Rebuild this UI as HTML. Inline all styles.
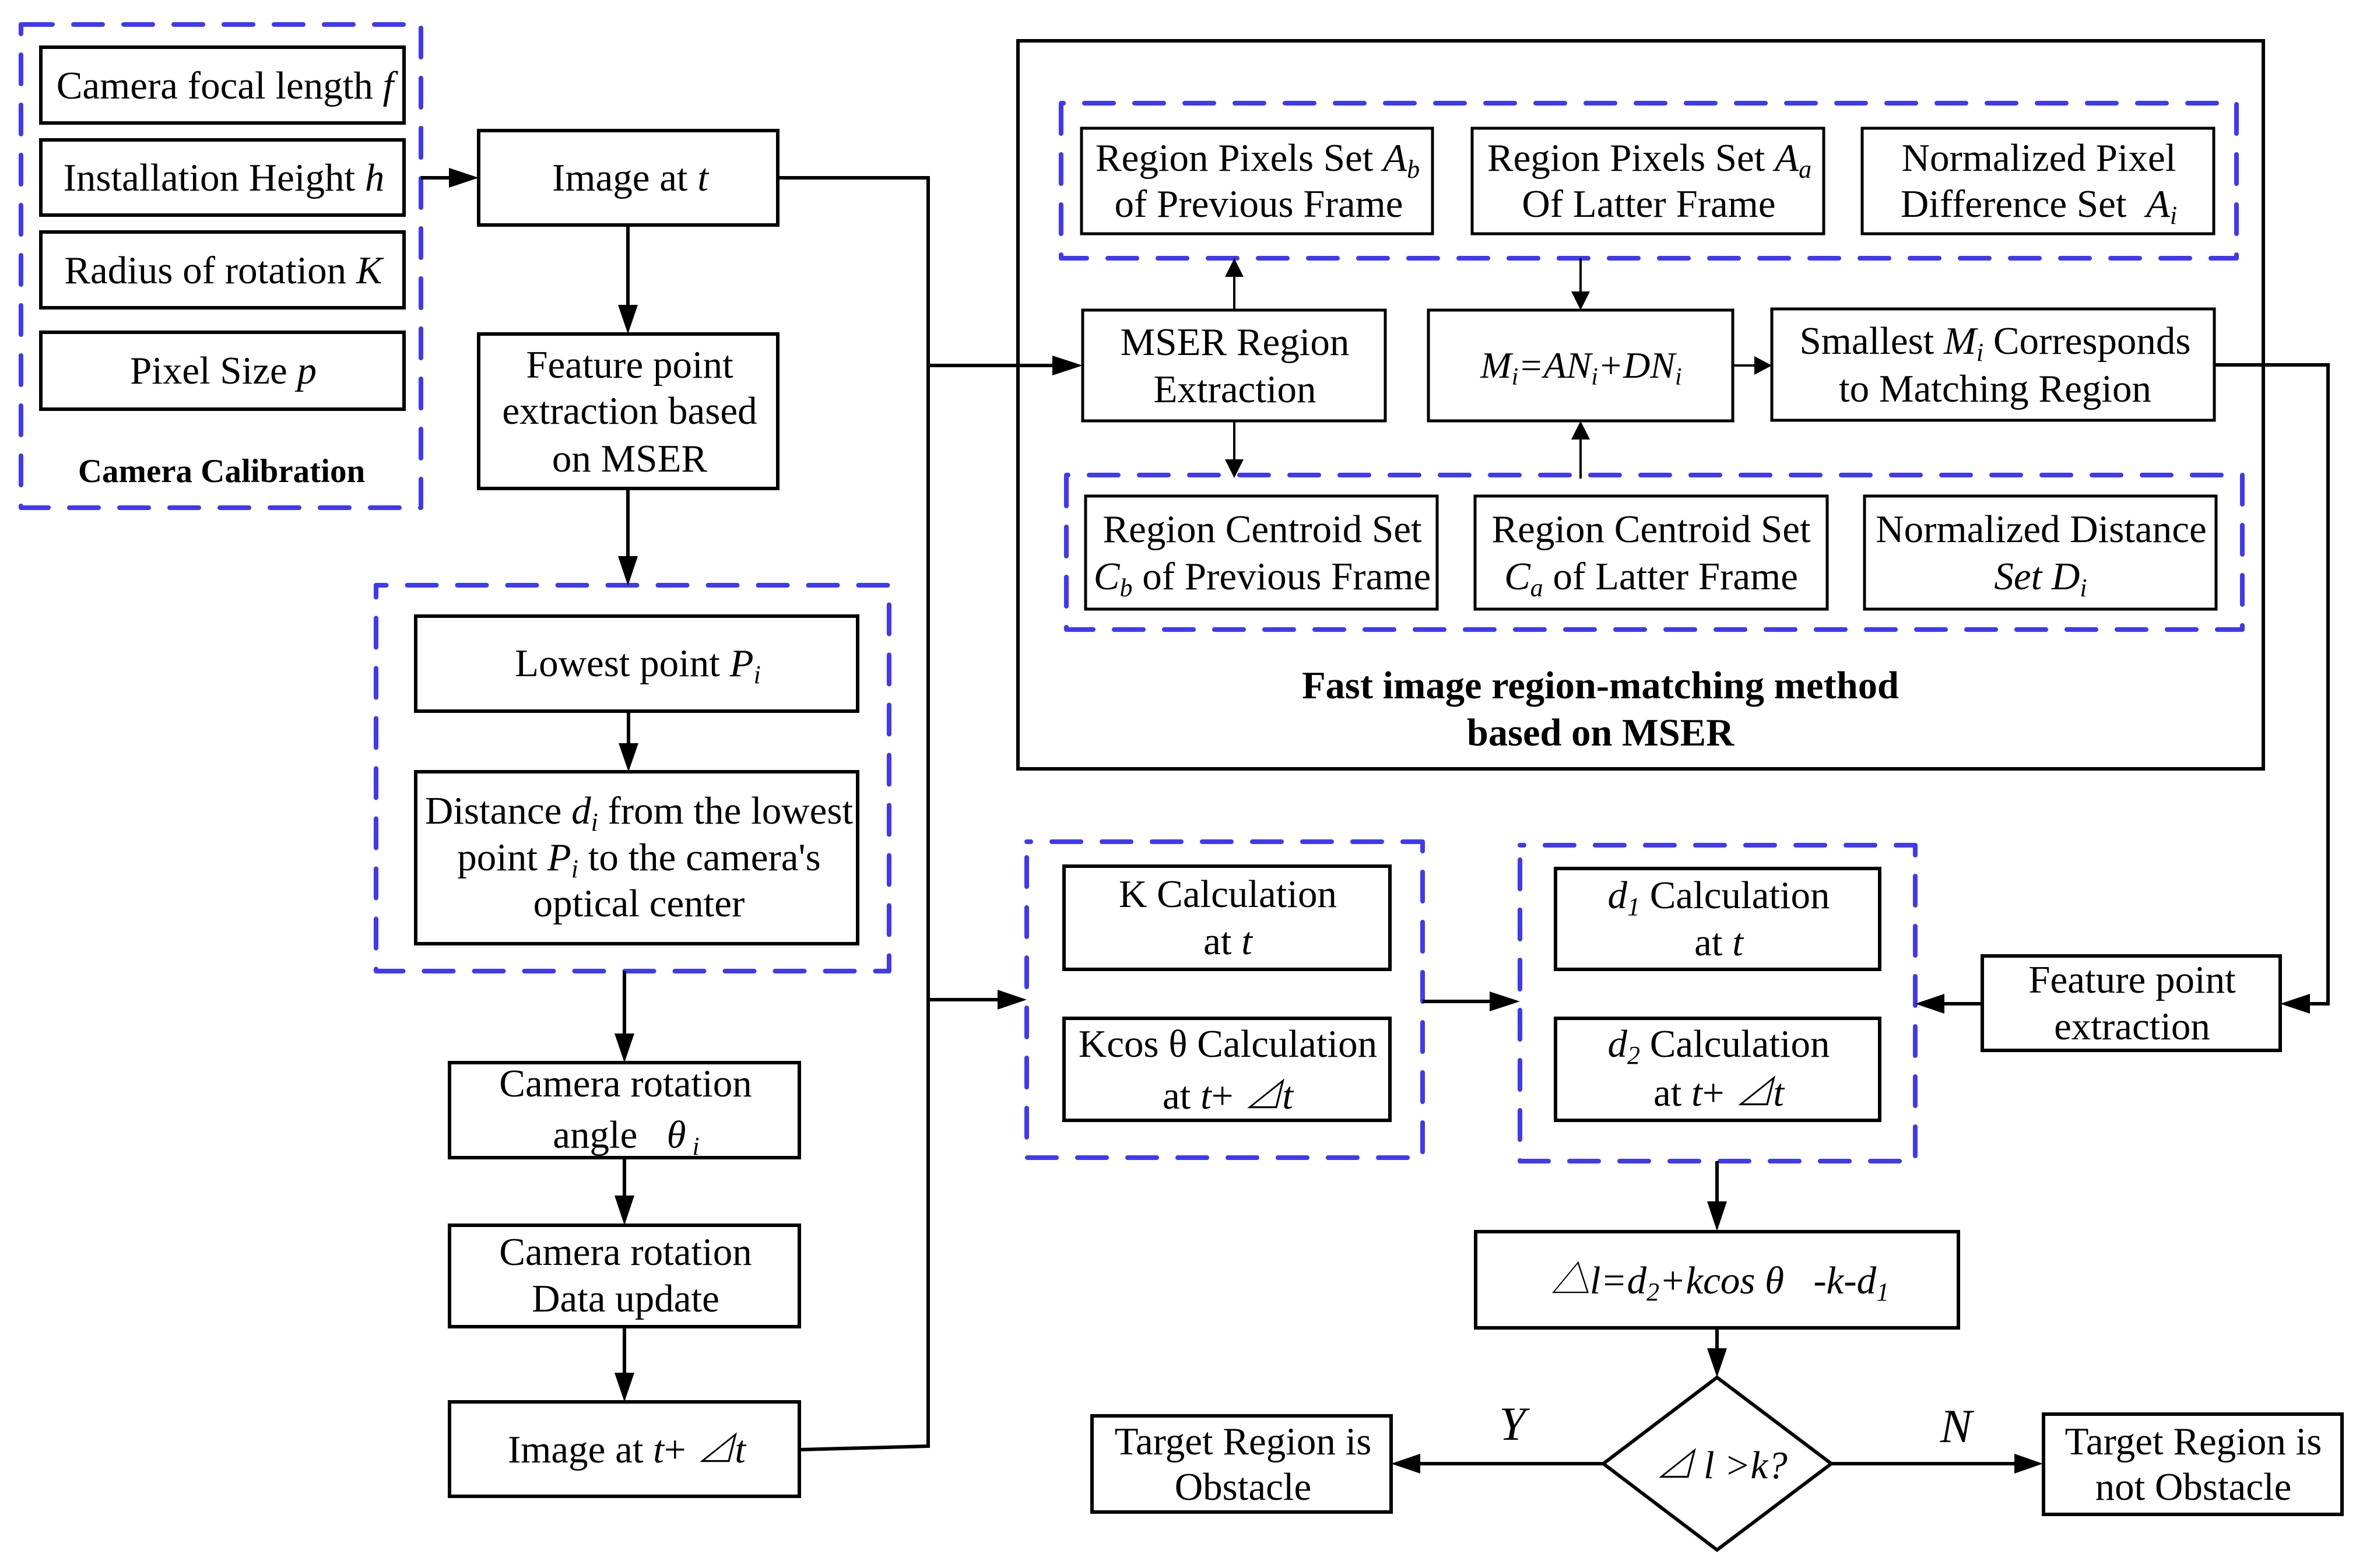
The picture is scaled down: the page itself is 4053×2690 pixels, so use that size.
<!DOCTYPE html>
<html><head><meta charset="utf-8"><style>
html,body{margin:0;padding:0;background:#fff}
svg{display:block}
text{font-family:"Liberation Serif","DejaVu Serif",serif;font-size:67px;fill:#000;text-anchor:middle;white-space:pre}
.b{font-weight:bold;font-size:57px}
.i,tspan.i{font-style:italic}
.tri{font-family:"Noto Sans CJK SC","DejaVu Sans",sans-serif;font-weight:300}
.box{fill:#fff;stroke:#000;stroke-width:6}
.thin{fill:#fff;stroke:#000;stroke-width:5}
.l{fill:none;stroke:#000;stroke-width:6}
.t{fill:none;stroke:#000;stroke-width:4}
.d{fill:none;stroke:#4038F4;stroke-width:8;stroke-dasharray:50 36;stroke-linecap:round;stroke-linejoin:round}
polygon{fill:#000}
</style></head><body>
<svg xmlns="http://www.w3.org/2000/svg" width="4053" height="2690" viewBox="0 0 4053 2690">
<rect width="4053" height="2690" fill="#fff"/>
<!-- outer -->
<rect x="1746" y="70" width="2136" height="1249" fill="none" stroke="#000" stroke-width="6"/>

<!-- dashed groups -->
<rect class="d" x="36" y="42" width="686" height="829" stroke-dashoffset="-4"/>
<rect class="d" x="645" y="1004" width="880" height="662" stroke-dashoffset="32.5"/>
<rect class="d" x="1820" y="177" width="2016" height="266" stroke-dashoffset="46"/>
<rect class="d" x="1829" y="815" width="2017" height="265" stroke-dashoffset="47"/>
<rect class="d" x="1761" y="1444" width="679" height="542" stroke-dashoffset="43"/>
<rect class="d" x="2607" y="1450" width="678" height="542" stroke-dashoffset="43"/>

<!-- connectors -->
<path class="l" d="M722 305H775"/><polygon points="821,305 770,288 770,322"/>
<path class="l" d="M1334 305H1592V2481L1371 2487"/>
<path class="l" d="M1077 386V530"/><polygon points="1077,573 1060,523 1094,523"/>
<path class="l" d="M1077 838V960"/><polygon points="1077,1005 1060,954 1094,954"/>
<path class="l" d="M1078 1220V1280"/><polygon points="1078,1324 1061,1275 1095,1275"/>
<path class="l" d="M1071 1666V1780"/><polygon points="1071,1823 1054,1773 1088,1773"/>
<path class="l" d="M1071 1986V2060"/><polygon points="1071,2102 1054,2051 1088,2051"/>
<path class="l" d="M1071 2276V2360"/><polygon points="1071,2405 1054,2355 1088,2355"/>
<path class="l" d="M1592 627H1810"/><polygon points="1857,627 1805,610 1805,644"/>
<path class="l" d="M1592 1715H1715"/><polygon points="1761,1715 1711,1698 1711,1732"/>
<path class="t" d="M2117 532V470"/><polygon points="2117,443 2101,475 2133,475"/>
<path class="t" d="M2711 443V505"/><polygon points="2711,532 2695,500 2727,500"/>
<path class="t" d="M2117 722V795"/><polygon points="2117,820 2101,788 2133,788"/>
<path class="t" d="M2711 821V750"/><polygon points="2711,722 2695,754 2727,754"/>
<path class="t" d="M2972 627H3015"/><polygon points="3039,627 3009,611 3009,643"/>
<path class="l" d="M3798 626H3993V1722H3955"/><polygon points="3911,1722 3962,1705 3962,1739"/>
<path class="l" d="M3399 1722H3330"/><polygon points="3285,1722 3335,1705 3335,1739"/>
<path class="l" d="M2440 1718H2560"/><polygon points="2607,1718 2555,1701 2555,1735"/>
<path class="l" d="M2945 1992V2070"/><polygon points="2945,2112 2928,2061 2962,2061"/>
<path class="l" d="M2945 2278V2320"/><polygon points="2945,2363 2928,2313 2962,2313"/>
<path class="l" d="M2750 2511H2430"/><polygon points="2386,2511 2436,2494 2436,2528"/>
<path class="l" d="M3141 2511H3460"/><polygon points="3504,2511 3455,2494 3455,2528"/>

<!-- left boxes -->
<rect class="box" x="70" y="81" width="623" height="130"/>
<rect class="box" x="70" y="240" width="623" height="129"/>
<rect class="box" x="70" y="398" width="623" height="130"/>
<rect class="box" x="70" y="570" width="623" height="132"/>
<rect class="box" x="821" y="224" width="513" height="162"/>
<rect class="box" x="821" y="573" width="513" height="265"/>
<rect class="box" x="713" y="1057" width="758" height="163"/>
<rect class="box" x="713" y="1324" width="758" height="295"/>
<rect class="box" x="771" y="1823" width="600" height="163"/>
<rect class="box" x="771" y="2102" width="600" height="174"/>
<rect class="box" x="771" y="2405" width="600" height="162"/>
<!-- MSER boxes -->
<rect class="thin" x="1855" y="220" width="602" height="181"/>
<rect class="thin" x="2525" y="220" width="603" height="181"/>
<rect class="thin" x="3194" y="220" width="603" height="181"/>
<rect class="thin" x="1857" y="532" width="519" height="190"/>
<rect class="thin" x="2450" y="532" width="522" height="190"/>
<rect class="thin" x="3039" y="530" width="759" height="191"/>
<rect class="thin" x="1862" y="851" width="603" height="194"/>
<rect class="thin" x="2530" y="851" width="604" height="194"/>
<rect class="thin" x="3198" y="851" width="603" height="194"/>
<!-- lower right -->
<rect class="box" x="1825" y="1486" width="559" height="177"/>
<rect class="box" x="1825" y="1747" width="559" height="175"/>
<rect class="box" x="2668" y="1490" width="556" height="173"/>
<rect class="box" x="2668" y="1747" width="556" height="175"/>
<rect class="box" x="3400" y="1640" width="511" height="162"/>
<rect class="box" x="2531" y="2113" width="828" height="165"/>
<rect class="box" x="1873" y="2429" width="513" height="165"/>
<rect class="box" x="3505" y="2426" width="512" height="172"/>
<polygon points="2945,2363 3141,2511 2945,2659 2750,2511" style="fill:#fff;stroke:#000;stroke-width:6"/>

<!-- text -->
<text x="386" y="169">Camera focal length <tspan class="i">f</tspan></text>
<text x="384" y="327">Installation Height <tspan class="i">h</tspan></text>
<text x="383" y="486">Radius of rotation <tspan class="i">K</tspan></text>
<text x="383" y="658">Pixel Size <tspan class="i">p</tspan></text>
<text class="b" x="380" y="827">Camera Calibration</text>
<text x="1081" y="327">Image at <tspan class="i">t</tspan></text>
<text x="1080" y="648">Feature point</text>
<text x="1080" y="727">extraction based</text>
<text x="1080" y="809">on MSER</text>
<text x="1094" y="1160">Lowest point <tspan class="i">P</tspan><tspan class="i" font-size="44" dy="12">i</tspan></text>
<text x="1096" y="1413">Distance <tspan class="i">d</tspan><tspan class="i" font-size="44" dy="12">i</tspan><tspan dy="-12"> from the lowest</tspan></text>
<text x="1096" y="1493">point <tspan class="i">P</tspan><tspan class="i" font-size="44" dy="12">i</tspan><tspan dy="-12"> to the camera's</tspan></text>
<text x="1096" y="1572">optical center</text>
<text x="1073" y="1881">Camera rotation</text>
<text x="1074" y="1969">angle   <tspan class="i">θ</tspan><tspan class="i" font-size="44" dy="12"> i</tspan></text>
<text x="1073" y="2170">Camera rotation</text>
<text x="1073" y="2250">Data update</text>
<text x="1075" y="2509">Image at <tspan class="i">t</tspan>+ <tspan class="i tri">⊿</tspan><tspan class="i">t</tspan></text>

<text x="2157" y="293">Region Pixels Set <tspan class="i">A</tspan><tspan class="i" font-size="44" dy="12">b</tspan></text>
<text x="2159" y="372">of Previous Frame</text>
<text x="2829" y="293">Region Pixels Set <tspan class="i">A</tspan><tspan class="i" font-size="44" dy="12">a</tspan></text>
<text x="2828" y="372">Of Latter Frame</text>
<text x="3497" y="293">Normalized Pixel</text>
<text x="3497" y="372">Difference Set  <tspan class="i">A</tspan><tspan class="i" font-size="44" dy="12">i</tspan></text>
<text x="2118" y="609">MSER Region</text>
<text x="2118" y="690">Extraction</text>
<text class="i" x="2712" y="648" style="font-size:64px"><tspan>M</tspan><tspan font-size="42" dy="12">i</tspan><tspan dy="-12">=AN</tspan><tspan font-size="42" dy="12">i</tspan><tspan dy="-12">+DN</tspan><tspan font-size="42" dy="12">i</tspan></text>
<text x="3422" y="607">Smallest <tspan class="i">M</tspan><tspan class="i" font-size="44" dy="12">i</tspan><tspan dy="-12"> Corresponds</tspan></text>
<text x="3422" y="689">to Matching Region</text>
<text x="2165" y="930">Region Centroid Set</text>
<text x="2165" y="1011"><tspan class="i">C</tspan><tspan class="i" font-size="44" dy="12">b</tspan><tspan dy="-12"> of Previous Frame</tspan></text>
<text x="2832" y="930">Region Centroid Set</text>
<text x="2832" y="1011"><tspan class="i">C</tspan><tspan class="i" font-size="44" dy="12">a</tspan><tspan dy="-12"> of Latter Frame</tspan></text>
<text x="3501" y="930">Normalized Distance</text>
<text class="i" x="3500" y="1011">Set D<tspan font-size="44" dy="12">i</tspan></text>
<text class="b" x="2745" y="1198" style="font-size:66.5px">Fast image region-matching method</text>
<text class="b" x="2745" y="1279" style="font-size:66.5px">based on MSER</text>

<text x="2106" y="1556">K Calculation</text>
<text x="2106" y="1637">at <tspan class="i">t</tspan></text>
<text x="2106" y="1813">Kcos θ Calculation</text>
<text x="2106" y="1902">at <tspan class="i">t</tspan>+ <tspan class="i tri">⊿</tspan><tspan class="i">t</tspan></text>
<text x="2948" y="1558"><tspan class="i">d</tspan><tspan class="i" font-size="44" dy="12">1</tspan><tspan dy="-12"> Calculation</tspan></text>
<text x="2948" y="1639">at <tspan class="i">t</tspan></text>
<text x="2948" y="1813"><tspan class="i">d</tspan><tspan class="i" font-size="44" dy="12">2</tspan><tspan dy="-12"> Calculation</tspan></text>
<text x="2948" y="1897">at <tspan class="i">t</tspan>+ <tspan class="i tri">⊿</tspan><tspan class="i">t</tspan></text>
<text x="3657" y="1703">Feature point</text>
<text x="3657" y="1783">extraction</text>
<text class="i" x="2950" y="2219"><tspan class="tri">△</tspan>l=d<tspan font-size="44" dy="12">2</tspan><tspan dy="-12">+kcos θ   -k-d</tspan><tspan font-size="44" dy="12">1</tspan></text>
<text class="i" x="2952" y="2536"><tspan class="tri">⊿</tspan> l &gt;k?</text>
<text x="2132" y="2495">Target Region is</text>
<text x="2132" y="2573">Obstacle</text>
<text x="3762" y="2495">Target Region is</text>
<text x="3762" y="2573">not Obstacle</text>
<text class="i" x="2594" y="2470" style="font-size:82px">Y</text>
<text class="i" x="3355" y="2474" style="font-size:82px">N</text>
</svg>
</body></html>
